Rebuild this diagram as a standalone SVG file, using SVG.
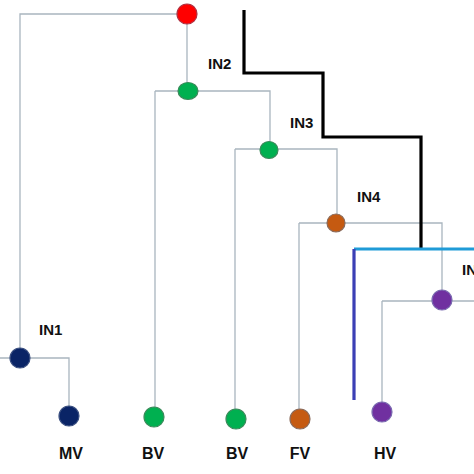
<svg xmlns="http://www.w3.org/2000/svg" width="474" height="474" viewBox="0 0 474 474">
<style>
.e{fill:none;stroke:#a9b5bf;stroke-width:1.3}
.bk{fill:none;stroke:#000;stroke-width:3.2;stroke-linejoin:miter}
.t{font-family:"Liberation Sans",Arial,sans-serif;font-weight:bold;fill:#111}
.lb{font-size:15px}
.lf{font-size:16px;text-anchor:middle}
.red{fill:#ff0000;stroke:#b03040;stroke-width:1.2}
.grn{fill:#00b050;stroke:#3a8a5a;stroke-width:1.2}
.nav{fill:#0a2466;stroke:#3a4f80;stroke-width:1.2}
.org{fill:#c55a11;stroke:#8a6a5a;stroke-width:1.2}
.pur{fill:#7030a0;stroke:#7a6ab0;stroke-width:1.2}
</style>
<rect width="474" height="474" fill="#fff"/>
<g id="connectors">
<path class="e" d="M187 14 H20 V358 M0 358 H69 V417"/>
<path class="e" d="M187 14 V91 M155 91 H270 V150 M155 91 V417"/>
<path class="e" d="M235 149 H337 V223 M235 149 V419"/>
<path class="e" d="M299 223 H442 V301 M299 223 V419"/>
<path class="e" d="M382 301 H474 M382 301 V412"/>
<path class="bk" d="M244 10 V73 H323 V137 H421 V249"/>
<path d="M354 249 H474" fill="none" stroke="#1f9bd7" stroke-width="3.2"/>
<path d="M354 249 V400" fill="none" stroke="#3b3fb5" stroke-width="3.2"/>
</g>
<g id="root"><circle class="red" cx="187" cy="14" r="10"/></g>
<g id="IN2"><ellipse class="grn" cx="188" cy="91" rx="10" ry="8.5"/><text class="t lb" x="208" y="69">IN2</text></g>
<g id="IN3"><ellipse class="grn" cx="269" cy="150" rx="9" ry="8.5"/><text class="t lb" x="290" y="128">IN3</text></g>
<g id="IN4"><circle class="org" cx="336" cy="223" r="9"/><text class="t lb" x="357" y="202">IN4</text></g>
<g id="IN5"><circle class="pur" cx="442" cy="300" r="10"/><text class="t lb" x="462" y="275">IN5</text></g>
<g id="IN1"><circle class="nav" cx="20" cy="358" r="10"/><text class="t lb" x="39" y="335">IN1</text></g>
<g id="MV"><circle class="nav" cx="69" cy="416" r="10"/><text class="t lf" x="71" y="459">MV</text></g>
<g id="BV1"><circle class="grn" cx="154" cy="417" r="10"/><text class="t lf" x="153" y="459">BV</text></g>
<g id="BV2"><circle class="grn" cx="236" cy="419" r="10"/><text class="t lf" x="237" y="459">BV</text></g>
<g id="FV"><circle class="org" cx="300" cy="419" r="10"/><text class="t lf" x="300" y="459">FV</text></g>
<g id="HV"><circle class="pur" cx="382" cy="412" r="10"/><text class="t lf" x="385" y="459">HV</text></g>
</svg>
